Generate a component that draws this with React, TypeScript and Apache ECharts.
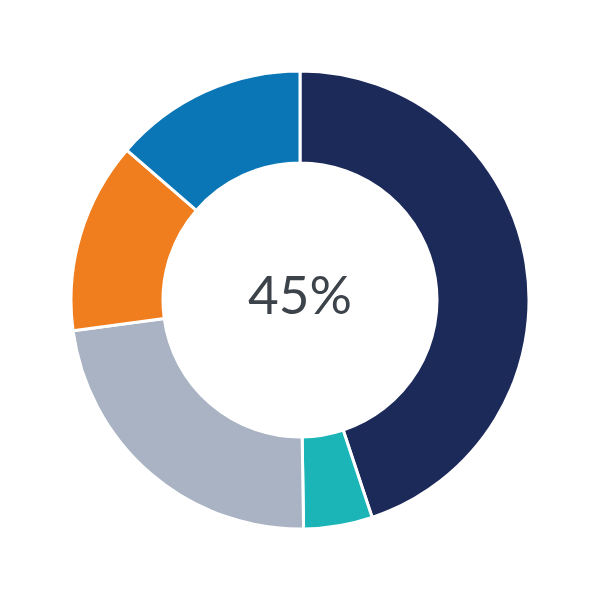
import { useEffect, useRef } from "react";
import * as echarts from "echarts";

// slices, clockwise from 12 o'clock
const sliceNames = ["Navy", "Teal", "Gray", "Orange", "Blue"];
const sliceValues = [44.9, 4.85, 23.1, 13.5, 13.65];
const sliceColors = ["#1c2a5a", "#1bb5b8", "#a9b3c3", "#f07e1e", "#0a76b6"];
const centerLabel = "45%";

export default function App() {
  const chartRef = useRef<HTMLDivElement>(null);

  useEffect(() => {
    if (!chartRef.current) return;
    const chart = echarts.init(chartRef.current, undefined, { renderer: "svg" });

    chart.setOption({
      animation: false,
      color: sliceColors,
      tooltip: { show: false },
      legend: { show: false },
      title: {
        text: centerLabel,
        left: 287,
        top: 280,
        textAlign: "center",
        textVerticalAlign: "middle",
        textStyle: {
          fontFamily: "Lato",
          fontWeight: "normal",
          fontSize: 53,
          color: "#3d434a",
        },
      },
      series: [
        {
          type: "pie",
          center: [292, 292],
          radius: [137, 229],
          startAngle: 90,
          clockwise: true,
          silent: true,
          label: { show: false },
          labelLine: { show: false },
          itemStyle: {
            borderColor: "#ffffff",
            borderWidth: 3,
          },
          data: sliceNames.map((name, i) => ({ name, value: sliceValues[i] })),
        },
      ],
    });

    return () => {
      chart.dispose();
    };
  }, []);

  return <div ref={chartRef} style={{ width: "600px", height: "600px" }} />;
}
